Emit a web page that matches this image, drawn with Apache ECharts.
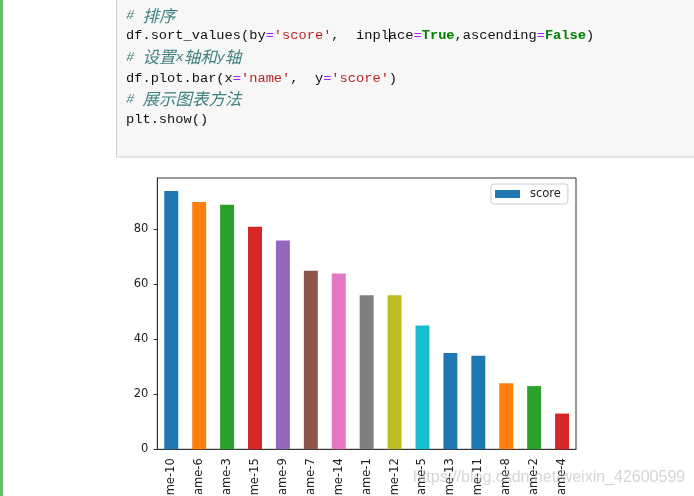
<!DOCTYPE html>
<html><head><meta charset="utf-8">
<script src="https://cdn.jsdelivr.net/npm/echarts@6/dist/echarts.min.js"></script>
<style>html,body{margin:0;padding:0;background:#fff;}#c{width:694px;height:496px;}</style>
</head><body><div id="c"></div>
<script>
const categories = ['name-10','name-6','name-3','name-15','name-9','name-7','name-14','name-1','name-12','name-5','name-13','name-11','name-8','name-2','name-4'];
const scores = [94, 90, 89, 81, 76, 65, 64, 56, 56, 45, 35, 34, 24, 23, 13];
const yTicks = [0, 20, 40, 60, 80];
const seriesName = 'score';
const barColors = ['#1f77b4','#ff7f0e','#2ca02c','#d62728','#9467bd','#8c564b','#e377c2','#7f7f7f','#bcbd22','#17becf','#1f77b4','#1f77b4','#ff7f0e','#2ca02c','#d62728'];
const codeLines = [
  "{cm|# }{cj|排序}",
  "{k|df.sort_values(by}{op|=}{s|'score'}{k|,  inplace}{op|=}{b|True}{k|,ascending}{op|=}{b|False}{k|)}",
  "{cm|# }{cj|设置}{cm|x}{cj|轴和}{cm|y}{cj|轴}",
  "{k|df.plot.bar(x}{op|=}{s|'name'}{k|,  y}{op|=}{s|'score'}{k|)}",
  "{cm|# }{cj|展示图表方法}",
  "{k|plt.show()}"
];
const watermark = 'https://blog.csdn.net/weixin_42600599';

const mono = "'Liberation Mono', monospace";
const rich = {
  k: {fontFamily: mono, fontSize: 13.7, fill: '#111'},
  op: {fontFamily: mono, fontSize: 13.7, fill: '#aa22ff'},
  s: {fontFamily: mono, fontSize: 13.7, fill: '#ba2121'},
  b: {fontFamily: mono, fontSize: 13.7, fill: '#008000', fontWeight: 'bold'},
  cm: {fontFamily: mono, fontSize: 13.7, fill: '#408080', fontStyle: 'italic'},
  cj: {fontFamily: "'Noto Sans CJK SC'", fontSize: 16.5, fill: '#408080', fontStyle: 'italic'}
};
const lineY = [15.5, 35.5, 57, 78, 99, 119.5];

const graphic = [
  {type: 'rect', shape: {x: 0, y: 0, width: 3, height: 496}, style: {fill: '#66bb6a'}, z: 1},
  {type: 'rect', shape: {x: 116.5, y: -5, width: 590, height: 162}, style: {fill: '#f7f7f7', stroke: '#cfcfcf', lineWidth: 1}, z: 1}
];
codeLines.forEach((t, i) => {
  graphic.push({type: 'text', x: 126, y: lineY[i], z: 2,
    style: {text: t, rich: rich, verticalAlign: 'middle', align: 'left'}});
});
graphic.push({type: 'line', shape: {x1: 389.5, y1: 28.5, x2: 389.5, y2: 42}, style: {stroke: '#000', lineWidth: 1}, z: 3});
graphic.push({type: 'text', x: 413, y: 478, z: 20,
  style: {text: watermark, fontFamily: "'Liberation Sans', Arial", fontSize: 16, fill: 'rgba(185,185,185,0.6)', verticalAlign: 'middle'}});

const chart = echarts.init(document.getElementById('c'), null, {renderer: 'canvas'});
chart.setOption({
  animation: false,
  backgroundColor: '#fff',
  graphic: graphic,
  grid: {left: 157.3, top: 178, right: 118, bottom: 46.7, containLabel: false, outerBoundsMode: 'none',
    show: true, borderColor: '#333', borderWidth: 1, backgroundColor: 'transparent'},
  legend: {
    left: 491, top: 184, data: [{name: seriesName, icon: 'rect'}],
    itemWidth: 25, itemHeight: 8, padding: [4, 7, 4, 4],
    borderColor: '#cccccc', borderWidth: 1, borderRadius: 3, backgroundColor: 'rgba(255,255,255,0.8)',
    textStyle: {fontFamily: "'DejaVu Sans'", fontSize: 11.5, color: '#222', padding: [0, 0, 0, 5]}
  },
  xAxis: {
    type: 'category', data: categories, boundaryGap: true,
    axisLine: {lineStyle: {color: '#333', width: 1}},
    axisTick: {alignWithLabel: true, length: 3.5, lineStyle: {color: '#333'}},
    axisLabel: {rotate: 90, margin: 9, fontFamily: "'DejaVu Sans'", fontSize: 11.5, color: '#222', interval: 0},
    splitLine: {show: false}
  },
  yAxis: {
    type: 'value', min: 0, max: 98.7, interval: 20,
    axisLine: {show: true, lineStyle: {color: '#333', width: 1}},
    axisTick: {show: true, length: 3.5, lineStyle: {color: '#333'}, customValues: yTicks},
    axisLabel: {margin: 9, fontFamily: "'DejaVu Sans'", fontSize: 11.5, color: '#222', customValues: yTicks},
    splitLine: {show: false}
  },
  series: [{
    name: seriesName, type: 'bar', barWidth: '50%',
    itemStyle: {color: '#1f77b4'},
    data: scores.map((v, i) => ({value: v, itemStyle: {color: barColors[i]}}))
  }]
});
</script></body></html>
